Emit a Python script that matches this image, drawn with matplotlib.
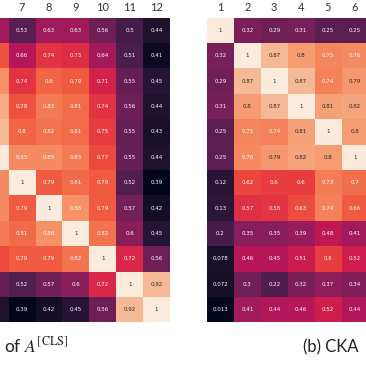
import numpy as np
import matplotlib
matplotlib.use("Agg")
import matplotlib.pyplot as plt
import seaborn as sns

# left panel: similarity of A^[CLS], only layers 6-12 are in view
left_cols = [6, 7, 8, 9, 10, 11, 12]
left_vals = [
    [0.64, 0.53, 0.63, 0.63, 0.56, 0.5, 0.44],
    [0.78, 0.66, 0.74, 0.73, 0.64, 0.51, 0.41],
    [0.86, 0.74, 0.8, 0.79, 0.71, 0.55, 0.45],
    [0.9, 0.78, 0.83, 0.81, 0.74, 0.56, 0.44],
    [0.92, 0.8, 0.82, 0.81, 0.75, 0.55, 0.43],
    [1, 0.85, 0.85, 0.83, 0.77, 0.55, 0.44],
    [0.85, 1, 0.79, 0.81, 0.79, 0.52, 0.39],
    [0.85, 0.79, 1, 0.86, 0.79, 0.57, 0.42],
    [0.83, 0.81, 0.86, 1, 0.82, 0.6, 0.45],
    [0.77, 0.79, 0.79, 0.82, 1, 0.72, 0.56],
    [0.55, 0.52, 0.57, 0.6, 0.72, 1, 0.92],
    [0.44, 0.39, 0.42, 0.45, 0.56, 0.92, 1],
]

# right panel: CKA, layers 1-6 in view
right_cols = [1, 2, 3, 4, 5, 6]
right_vals = [
    [1, 0.32, 0.29, 0.31, 0.25, 0.25],
    [0.32, 1, 0.87, 0.8, 0.75, 0.76],
    [0.29, 0.87, 1, 0.87, 0.74, 0.79],
    [0.31, 0.8, 0.87, 1, 0.81, 0.82],
    [0.25, 0.75, 0.74, 0.81, 1, 0.8],
    [0.25, 0.76, 0.79, 0.82, 0.8, 1],
    [0.12, 0.62, 0.6, 0.6, 0.73, 0.7],
    [0.13, 0.57, 0.58, 0.63, 0.74, 0.66],
    [0.2, 0.35, 0.35, 0.39, 0.48, 0.41],
    [0.078, 0.46, 0.45, 0.51, 0.6, 0.52],
    [0.072, 0.3, 0.22, 0.32, 0.37, 0.34],
    [0.013, 0.41, 0.44, 0.46, 0.52, 0.44],
]


def draw(ax, vals, cols, hide_first=False):
    data = np.array(vals)
    labels = np.array([[format(v, ".2g") for v in row] for row in vals],
                      dtype=object)
    ticks = [str(c) for c in cols]
    if hide_first:
        # the column cut by the image edge shows no number
        labels[:, 0] = ""
        ticks[0] = ""
    sns.heatmap(data, ax=ax, cmap="rocket", cbar=False, annot=labels,
                fmt="", annot_kws={"size": 4},
                vmin=data.min(), vmax=data.max())
    ax.xaxis.tick_top()
    ax.set_xticks(np.arange(len(cols)) + 0.5)
    ax.set_xticklabels(ticks, fontsize=8, family="Lato", color="#333333")
    ax.set_yticks([])
    ax.tick_params(length=0, pad=3)


fig = plt.figure(figsize=(3.66, 3.66), dpi=100)

ax1 = fig.add_axes([-0.05, 0.119, 0.5145, 0.833])
draw(ax1, left_vals, left_cols, hide_first=True)

ax2 = fig.add_axes([0.5656, 0.119, 0.441, 0.833])
draw(ax2, right_vals, right_cols)

plt.rcParams["mathtext.fontset"] = "stix"
fig.text(0.012, 0.036, r"of $A^{[\mathrm{CLS}]}$", fontsize=12.5,
         family="Lato", color="#222222")
fig.text(0.828, 0.036, "(b) CKA", fontsize=12, family="Lato",
         color="#222222")

fig.savefig("out.png", dpi=100)
